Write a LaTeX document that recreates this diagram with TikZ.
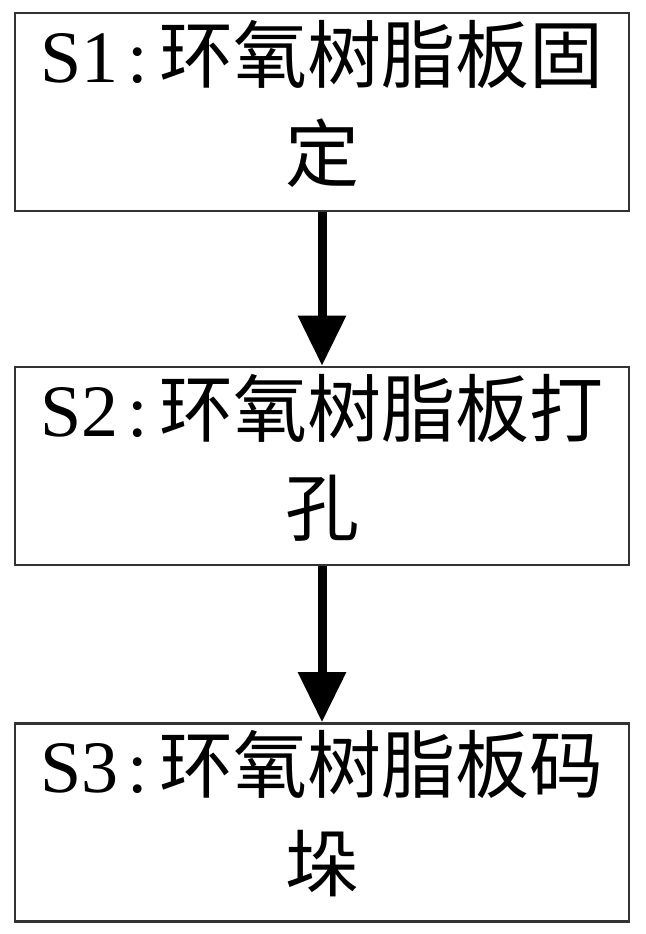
\documentclass[tikz,border=0pt]{standalone}
\usepackage{fontspec}
\setmainfont{Liberation Serif}
\newfontfamily\cjk{Noto Sans CJK SC}
\usetikzlibrary{arrows.meta}
\newcommand{\boxtext}[2]{\raisebox{10pt}{\begin{tabular}{@{}c@{}}#1\\#2\end{tabular}}}
\begin{document}
\begin{tikzpicture}[x=1pt,y=1pt,
  stepbox/.style={draw=black!80, line width=2.5pt, minimum width=614pt, minimum height=196pt,
    inner sep=0pt, font=\fontsize{74}{99}\selectfont},
  flow/.style={line width=9pt, -{Triangle[width=46pt,length=50pt]}}]
\useasboundingbox (0,0) rectangle (645,934);
\node[stepbox] (s1) at (322,822) {\boxtext{S1\hspace{0.12em}:\hspace{0.15em}{\cjk 环氧树脂板固}}{\cjk 定}};
\node[stepbox] (s2) at (322,468) {\boxtext{S2\hspace{0.12em}:\hspace{0.15em}{\cjk 环氧树脂板打}}{\cjk 孔}};
\node[stepbox] (s3) at (322,111.5) {\boxtext{S3\hspace{0.12em}:\hspace{0.15em}{\cjk 环氧树脂板码}}{\cjk 垛}};
\draw[flow] (s1.south) -- (s2.north);
\draw[flow] (s2.south) -- (s3.north);
\end{tikzpicture}
\end{document}
